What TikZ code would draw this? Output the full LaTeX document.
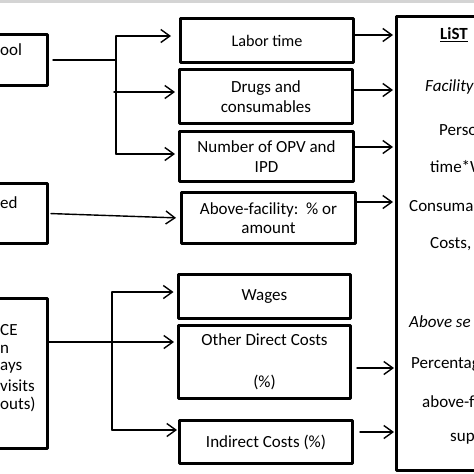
\documentclass[tikz,border=0pt]{standalone}
\usepackage{fontspec}
\setmainfont{Carlito}
\usetikzlibrary{arrows.meta,positioning}
\newcommand{\boxfont}{\fontsize{17}{19.5}\selectfont}

\begin{document}
\begin{tikzpicture}[x=1pt,y=-1pt,line cap=round,line join=round]
\useasboundingbox (0,0) rectangle (474,474);
\clip (0,0) rectangle (474,474);
\path[fill=white] (0,0) rectangle (474,474);
\path[fill=black!17] (0,0) rectangle (474,3);
\tikzset{box/.style={draw=black,line width=3pt,inner sep=2pt,align=center,font=\boxfont,anchor=north west},conn/.style={draw=black,line width=1.4pt},feed/.style={conn,-{Straight Barb[length=9pt,width=13pt]}},cut/.style={anchor=west,inner sep=0pt,font=\boxfont}}
% left inputs, cut off by the frame
\node[box,minimum width=106pt,minimum height=51pt] (school) at (-60,33) {};
\node[cut] (schooltxt) at (0,50) {ool};
\node[box,minimum width=106pt,minimum height=60pt] (stay) at (-60,182) {};
\node[cut] (staytxt) at (0,203) {ed};
\node[box,minimum width=106pt,minimum height=150pt] (cost) at (-60,297) {};
\node[cut] (costa) at (0,330) {CE};
\node[cut] (costb) at (0,349) {n};
\node[cut] (costc) at (0,368) {ays};
\node[cut] (costd) at (0,386) {visits};
\node[cut] (coste) at (0,404) {outs)};
% middle column
\node[box,minimum width=173pt,minimum height=44pt,font=\fontsize{16.2}{19}\selectfont] (labor) at (179,17) {Labor time};
\node[box,minimum width=173pt,minimum height=54pt] (drugs) at (178,68) {Drugs and\\consumables};
\node[box,minimum width=174pt,minimum height=50pt] (visits) at (178,130) {Number of OPV and\\IPD};
\node[box,minimum width=174pt,minimum height=51pt] (abovefac) at (180,191) {Above-facility:\ \ \% or\\amount};
\node[box,minimum width=172pt,minimum height=44pt] (wages) at (177,273) {Wages};
\node[box,minimum width=172pt,minimum height=73pt] (other) at (177,324) {Other Direct Costs\\[22pt](\%)};
\node[box,minimum width=173pt,minimum height=43pt] (indirect) at (178,419) {Indirect Costs (\%)};
% LiST box
\node[box,minimum width=130pt,minimum height=454pt] (list) at (395,15) {};
\node[cut,font=\boxfont\bfseries] (listhead) at (440,35) {\underline{LiST}};
\node[cut,font=\boxfont\itshape] (listfac) at (425,87) {Facility};
\node[cut] (lista) at (439,130) {Perso};
\node[cut] (listb) at (430,167) {time*W};
\node[cut] (listc) at (409,206) {Consumab};
\node[cut] (listd) at (430,244) {Costs, I};
\node[cut,font=\boxfont\itshape] (listabove) at (409,322) {Above se};
\node[cut] (liste) at (411,365) {Percentag};
\node[cut] (listf) at (422,402) {above-fa};
\node[cut] (listg) at (450,439) {sup};
% forks
\coordinate (fa) at (116,36);
\coordinate (fb) at (116,92);
\coordinate (fc) at (116,154);
\coordinate (ga) at (112,292);
\coordinate (gb) at (112,342);
\coordinate (gc) at (112,430);
\coordinate (inA) at (393,35);
\coordinate (inB) at (393,90);
\coordinate (inC) at (393,147);
\coordinate (inD) at (393,202);
\coordinate (inE) at (394,368);
\coordinate (inF) at (394,432);
\draw[conn,shorten <=4pt] (school.east) -- (school.east -| fa);
\draw[conn] (fa) -- (fc);
\draw[feed,shorten >=8pt] (fa) -- (labor.west |- fa);
\draw[feed,shorten <=-2pt,shorten >=3pt] (fb) -- (drugs.west |- fb);
\draw[feed,shorten >=3pt] (fc) -- (visits.west |- fc);
\draw[feed,shorten <=2pt,shorten >=4pt] (stay.east) -- (abovefac.west);
\draw[conn] (ga) -- (gc);
\draw[feed,shorten >=3pt] (cost.east |- gb) -- (other.west |- gb);
\draw[feed,shorten >=3.5pt] (ga) -- (wages.west |- ga);
\draw[feed,shorten >=1pt] (gc) -- (indirect.west |- gc);
\draw[feed] (labor.east |- inA) -- (inA);
\draw[feed] (drugs.east |- inB) -- (inB);
\draw[feed] (visits.east |- inC) -- (inC);
\draw[feed] (abovefac.east |- inD) -- (inD);
\draw[feed,shorten <=5pt] (other.east |- inE) -- (inE);
\draw[feed,shorten <=6pt] (indirect.east |- inF) -- (inF);
\end{tikzpicture}
\end{document}
